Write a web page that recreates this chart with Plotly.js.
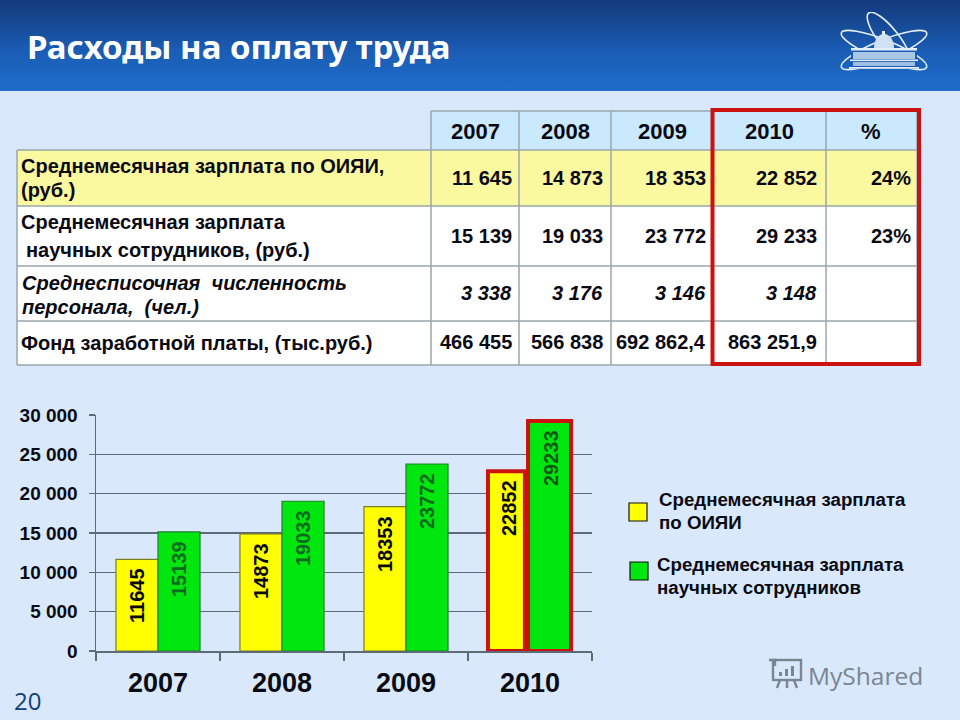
<!DOCTYPE html>
<html><head><meta charset="utf-8">
<script src="https://cdn.plot.ly/plotly-3.0.0.min.js"></script>
<style>
html,body{margin:0;padding:0;width:960px;height:720px;overflow:hidden;background:#d9e9fb}
#band{position:absolute;left:0;top:0;width:960px;height:91px;background:linear-gradient(#13397a,#1a5cb4 55%,#1e6dca)}
#chart{position:absolute;left:0;top:0;width:960px;height:720px}
</style></head><body>
<div id="band"></div><div id="chart"></div>
<script>
const years = ['2007','2008','2009','2010'];
const jinrSalary = [11645,14873,18353,22852];
const scientistSalary = [15139,19033,23772,29233];
const yTickValues = [0,5000,10000,15000,20000,25000,30000];
const yTickLabels = ['0','5 000','10 000','15 000','20 000','25 000','30 000'];
const tableHeader = ['2007','2008','2009','2010','%'];
const rowJinr = ['11 645','14 873','18 353','22 852','24%'];
const rowScientists = ['15 139','19 033','23 772','29 233','23%'];
const rowStaff = ['3 338','3 176','3 146','3 148',''];
const rowFund = ['466 455','566 838','692 862,4','863 251,9',''];
const titleText = 'Расходы на оплату труда';

const FONT='"Liberation Sans", Arial, sans-serif';
const px=x=>x/960, py=y=>1-y/720;
const W=960,H=720;

// layout geometry of the slide (pixels)
const colEdges=[431,519,611,712,826,917];
const colRight=[512,603,706,817,911];
const colCentre=[475,565,662,769,871];
const rowEdges=[150,206,266,321,365];
const rowCentre=[178,236,293,342];

const rect=(x0,y0,x1,y1,fill,line,lw)=>({type:'rect',xref:'paper',yref:'paper',x0:px(x0),x1:px(x1),y0:py(y0),y1:py(y1),
  fillcolor:fill,line:{color:line||'rgba(0,0,0,0)',width:lw===undefined?1:lw}});
const hline=(x0,x1,y,c)=>({type:'line',xref:'paper',yref:'paper',x0:px(x0),x1:px(x1),y0:py(y),y1:py(y),line:{color:c,width:1.5}});
const vline=(x,y0,y1,c)=>({type:'line',xref:'paper',yref:'paper',x0:px(x),x1:px(x),y0:py(y0),y1:py(y1),line:{color:c,width:1.5}});
const text=(x,y,t,size,anchor,opts)=>Object.assign({xref:'paper',yref:'paper',x:px(x),y:py(y),text:t,showarrow:false,
  xanchor:anchor,yanchor:'middle',font:{family:FONT,size:size,color:'#0a0a14'},borderpad:0,borderwidth:0},opts||{});

const GRID='#9aa6ae';
const shapes=[
  rect(431,111,917,150,'#cbe9fc'),
  rect(17,150,917,206,'#fbf9a0'),
  rect(17,206,917,365,'#ffffff')
];
rowEdges.forEach(y=>shapes.push(hline(17,917,y,GRID)));
shapes.push(hline(431,917,111,GRID));
shapes.push(vline(17,150,365,GRID));
colEdges.forEach(x=>shapes.push(vline(x,111,365,GRID)));
shapes.push(rect(712.5,110,919,364,'rgba(0,0,0,0)','#cc1111',4));
shapes.push(rect(629,503,647,521,'#ffff00','#111111',1.2));
shapes.push(rect(630,562,648,580,'#00e60f','#111111',1.2));

const ann=[
  text(27,47,'<b>'+titleText+'</b>',33,'left',{font:{family:'"Noto Sans", sans-serif',size:33,color:'#ffffff'}}),
  text(14,700,'20',24,'left',{font:{family:'"Open Sans", sans-serif',size:24,color:'#123f78'}}),
  text(21,166,'<b>Среднемесячная зарплата по ОИЯИ,</b>',20,'left'),
  text(21,190,'<b>(руб.)</b>',20,'left'),
  text(21,222,'<b>Среднемесячная зарплата</b>',20,'left'),
  text(26,250,'<b>научных сотрудников, (руб.)</b>',20,'left'),
  text(22,283,'<b><i>Среднесписочная  численность</i></b>',20,'left'),
  text(22,307,'<b><i>персонала,  (чел.)</i></b>',20,'left'),
  text(21,343,'<b>Фонд заработной платы, (тыс.руб.)</b>',20,'left'),
  text(659,499,'<b>Среднемесячная зарплата</b>',18.7,'left'),
  text(659,522,'<b>по ОИЯИ</b>',18.7,'left'),
  text(657,564,'<b>Среднемесячная зарплата</b>',18.7,'left'),
  text(657,587,'<b>научных сотрудников</b>',18.7,'left'),
  text(808,675,'MyShared',24.5,'left',{font:{family:'"Open Sans", sans-serif',size:24.5,color:'#7a8691'}})
];
tableHeader.forEach((t,i)=>ann.push(text(colCentre[i],131,'<b>'+t+'</b>',22,'center')));
[[rowJinr,false],[rowScientists,false],[rowStaff,true],[rowFund,false]].forEach(([row,it],r)=>{
  row.forEach((t,i)=>{ if(t) ann.push(text(colRight[i],rowCentre[r],it?'<b><i>'+t+'</i></b>':'<b>'+t+'</b>',20,'right')); });
});
// rotated value labels, hand-placed as in the slide
const yellowLabelY=[596,571,544,508], greenLabelY=[569,538,501,458];
const greenLabelColor=['#0a6a1e','#0a6a1e','#0a6a1e','#0a5a12'];
years.forEach((yr,i)=>{
  ann.push({xref:'x',yref:'paper',x:i,xshift:-21,y:py(yellowLabelY[i]),text:'<b>'+jinrSalary[i]+'</b>',textangle:-90,showarrow:false,
    yanchor:'middle',xanchor:'center',font:{family:FONT,size:20,color:'#0a0a0a'}});
  ann.push({xref:'x',yref:'paper',x:i,xshift:21,y:py(greenLabelY[i]),text:'<b>'+scientistSalary[i]+'</b>',textangle:-90,showarrow:false,
    yanchor:'middle',xanchor:'center',font:{family:FONT,size:20,color:greenLabelColor[i]}});
});

const logoSvg=`<svg xmlns="http://www.w3.org/2000/svg" viewBox="0 0 100 66" width="100" height="66">
<g fill="none" stroke="#e4eff9" stroke-width="1.6">
<ellipse cx="50" cy="38" rx="46" ry="10" transform="rotate(22 50 38)"/>
<ellipse cx="50" cy="38" rx="46" ry="10" transform="rotate(-22 50 38)"/>
<ellipse cx="55" cy="27" rx="33" ry="10" transform="rotate(52 55 27)"/></g>
<path d="M40 36 a10 14 0 0 1 20 0z" fill="#cfe1f3"/><rect x="48" y="19" width="3" height="4" fill="#e4eff9"/>
<rect x="17" y="36" width="66" height="21" fill="#1a5cb4"/>
<rect x="17" y="36" width="66" height="2.5" fill="#e4eff9"/><rect x="19" y="40" width="62" height="7" fill="#a9c8e6"/>
<rect x="16" y="47.5" width="68" height="1.6" fill="#e4eff9"/><rect x="19" y="50" width="62" height="4" fill="#9fc0e2"/>
<rect x="15" y="55" width="70" height="1.8" fill="#e4eff9"/></svg>`;
const markSvg=`<svg xmlns="http://www.w3.org/2000/svg" viewBox="0 0 36 36" width="36" height="36">
<g fill="none" stroke="#7a8691" stroke-width="2.4"><rect x="6" y="4" width="28" height="20"/><path d="M2 4h6v6"/><path d="M13 24l-3 8M27 24l3 8M20 24v8"/></g>
<g fill="#7a8691"><rect x="12" y="16" width="3" height="4"/><rect x="18" y="13" width="3" height="7"/><rect x="24" y="10" width="3" height="10"/></g></svg>`;
const uri=s=>'data:image/svg+xml;charset=utf-8,'+encodeURIComponent(s);

// bar placement relative to the category centre (the framed 2010 pair is slightly separated)
const yellowOffset=[-0.339,-0.339,-0.339,-0.339], yellowWidth=[0.339,0.339,0.339,0.298];
const greenOffset=[0,0,0,-0.016], greenWidth=[0.339,0.339,0.339,0.347];
const traces=[
 {type:'bar',name:'Среднемесячная зарплата по ОИЯИ',x:years,y:jinrSalary,offset:yellowOffset,width:yellowWidth,
  marker:{color:'#ffff00',line:{color:['#7d7d20','#7d7d20','#7d7d20','#cc1111'],width:[1.2,1.2,1.2,4]}},textposition:'none',hoverinfo:'skip'},
 {type:'bar',name:'Среднемесячная зарплата научных сотрудников',x:years,y:scientistSalary,offset:greenOffset,width:greenWidth,
  marker:{color:'#00e60f',line:{color:['#1d7d2a','#1d7d2a','#1d7d2a','#cc1111'],width:[1.2,1.2,1.2,4]}},textposition:'none',hoverinfo:'skip'}
];
const layout={
 width:W,height:H,margin:{l:0,r:0,t:0,b:0,pad:0},paper_bgcolor:'rgba(0,0,0,0)',plot_bgcolor:'rgba(0,0,0,0)',
 showlegend:false,barmode:'overlay',
 xaxis:{domain:[px(96),px(592)],type:'category',categoryorder:'array',categoryarray:years,range:[-0.5,3.5],autorange:false,tickson:'boundaries',ticks:'outside',ticklen:8,tickwidth:1.5,tickcolor:'#5d6b76',
   showline:true,linecolor:'#5d6b76',linewidth:1.5,showgrid:false,zeroline:false,fixedrange:true,ticklabelstandoff:7,tickangle:0,
   tickfont:{family:FONT,size:27,color:'#0a0a14',weight:'bold'}},
 yaxis:{domain:[py(651),py(415)],range:[0,30000],tickmode:'array',tickvals:yTickValues,ticktext:yTickLabels,ticks:'outside',ticklen:6,tickwidth:1.5,tickcolor:'#5d6b76',
   showline:true,linecolor:'#5d6b76',linewidth:1.5,showgrid:true,gridcolor:'#5d6b76',gridwidth:1.5,zeroline:false,fixedrange:true,ticklabelstandoff:7,
   tickfont:{family:FONT,size:19,color:'#0a0a14',weight:'bold'}},
 shapes:shapes,annotations:ann,
 images:[
  {source:uri(logoSvg),xref:'paper',yref:'paper',x:px(834),y:py(12),sizex:px(100),sizey:66/720,xanchor:'left',yanchor:'top',sizing:'stretch',layer:'above'},
  {source:uri(markSvg),xref:'paper',yref:'paper',x:px(767),y:py(656),sizex:px(36),sizey:36/720,xanchor:'left',yanchor:'top',sizing:'stretch',layer:'above'}
 ]
};
Plotly.newPlot('chart',traces,layout,{staticPlot:true,displayModeBar:false});
</script></body></html>
